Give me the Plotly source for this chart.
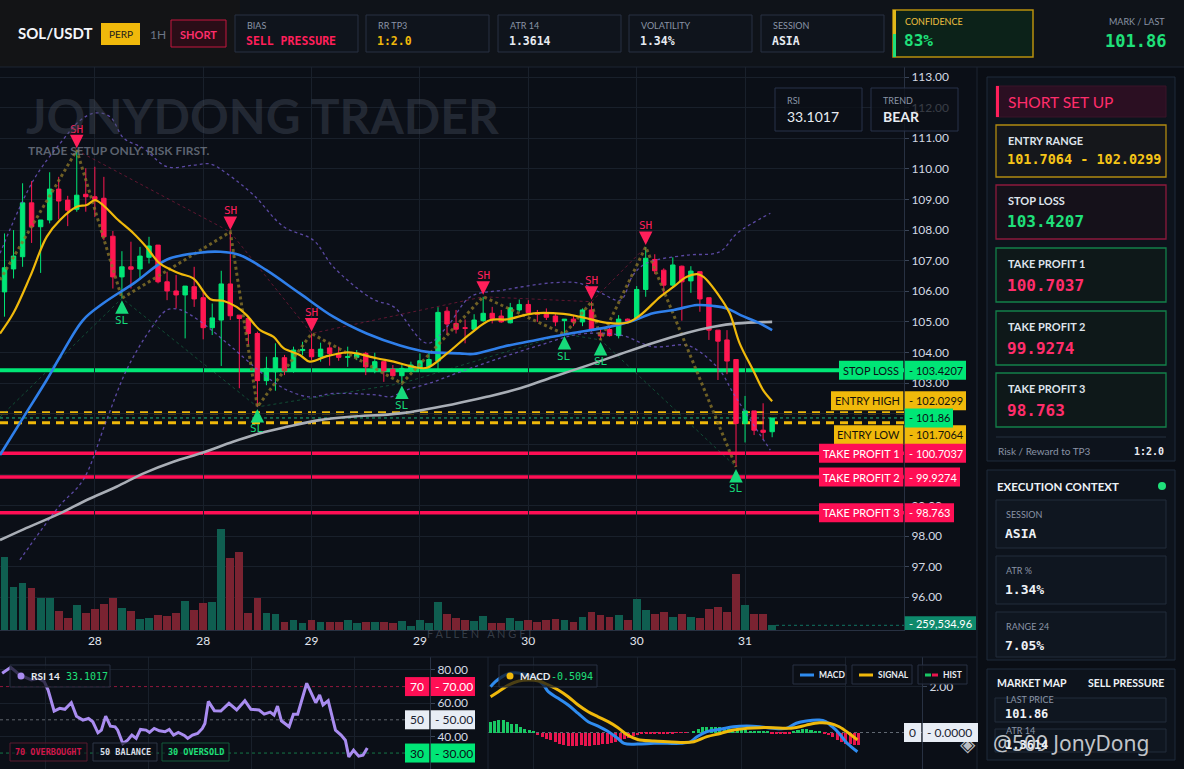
import plotly.graph_objects as go

W, H = 1184, 769


def px(x):
    return x / W


def py(y):
    return 1 - y / H


SANS = "Lato, 'Noto Sans', 'DejaVu Sans', sans-serif"
MONO = "'DejaVu Sans Mono', 'Liberation Mono', monospace"

# ---------------------------------------------------------------- data
candle_idx = list(range(86))
open_ = [105.98, 106.73, 107.13, 108.89, 108.11, 108.33, 109.34, 108.98, 108.68, 109.17,
         109.09, 109.04, 107.80, 106.47, 106.80, 106.73, 107.11, 107.51, 106.31, 106.01,
         105.88, 106.15, 105.79, 104.81, 105.06, 106.24, 105.22, 105.11, 104.62, 103.08,
         103.37, 103.83, 103.40, 104.06, 104.10, 103.86, 104.15, 103.97, 103.84, 103.84,
         103.97, 103.48, 103.70, 103.45, 103.24, 103.42, 103.48, 103.53, 103.72, 105.35,
         104.95, 104.81, 104.76, 105.04, 105.28, 105.19, 104.97, 105.39, 105.57, 105.30,
         105.28, 105.19, 105.04, 105.09, 105.00, 105.39, 104.63, 104.75, 104.55, 105.09,
         105.08, 106.06, 107.04, 106.69, 106.20, 106.82, 106.34, 106.64, 105.79, 104.73,
         104.41, 103.77, 101.68, 102.09, 101.46, 101.41]
high = [107.89, 108.00, 109.53, 109.60, 108.33, 109.89, 109.74, 109.12, 110.61, 110.02,
        110.07, 109.74, 107.97, 107.31, 107.62, 107.45, 107.78, 107.51, 106.64, 106.53,
        106.17, 106.80, 106.04, 105.60, 106.67, 107.94, 105.22, 105.12, 104.68, 103.86,
        104.30, 103.92, 104.19, 104.35, 104.62, 104.32, 104.30, 104.19, 104.19, 104.08,
        104.02, 103.99, 103.70, 103.59, 103.59, 103.70, 103.97, 104.02, 105.48, 105.49,
        105.39, 105.08, 105.25, 105.82, 105.49, 105.39, 105.62, 105.73, 105.71, 105.39,
        105.44, 105.28, 105.09, 105.22, 105.44, 105.66, 104.80, 104.84, 105.22, 105.11,
        106.17, 107.45, 107.21, 106.75, 107.11, 106.84, 106.82, 106.64, 105.79, 104.73,
        104.73, 103.77, 102.58, 102.09, 102.34, 101.86]
low = [105.17, 106.42, 106.80, 107.58, 106.60, 108.22, 108.35, 108.13, 108.60, 108.60,
       108.43, 107.67, 106.09, 105.77, 106.09, 106.42, 106.91, 106.26, 105.71, 105.44,
       104.46, 105.49, 104.43, 104.57, 103.56, 105.06, 102.83, 104.24, 102.22, 102.93,
       102.75, 103.26, 103.34, 103.92, 103.75, 103.70, 103.57, 103.73, 103.53, 103.75,
       103.26, 103.32, 103.04, 103.21, 102.99, 103.34, 103.37, 103.45, 103.42, 104.57,
       104.62, 104.30, 104.68, 105.00, 104.95, 104.97, 104.95, 105.33, 105.22, 105.00,
       105.06, 104.86, 104.60, 104.86, 104.86, 104.68, 104.41, 104.52, 104.46, 105.00,
       105.04, 105.82, 106.56, 105.88, 106.13, 105.04, 105.95, 105.33, 104.41, 103.10,
       103.29, 100.26, 101.06, 101.30, 101.16, 101.23]
close = [106.77, 107.15, 108.89, 108.11, 108.33, 109.34, 108.95, 108.65, 109.14, 109.09,
         109.00, 107.78, 106.47, 106.80, 106.72, 107.15, 107.48, 106.31, 106.01, 105.88,
         106.17, 105.75, 104.81, 105.13, 106.24, 105.20, 105.11, 104.62, 103.08, 103.48,
         103.83, 103.40, 104.08, 104.10, 103.86, 104.11, 103.97, 103.84, 103.86, 103.97,
         103.53, 103.70, 103.40, 103.24, 103.48, 103.59, 103.73, 103.77, 105.31, 104.93,
         104.76, 104.79, 105.06, 105.28, 105.11, 105.00, 105.46, 105.57, 105.30, 105.25,
         105.15, 105.00, 105.09, 105.00, 105.39, 104.76, 104.54, 104.55, 105.09, 105.03,
         106.06, 107.08, 106.67, 106.20, 106.86, 106.31, 106.66, 105.75, 104.73, 104.37,
         103.72, 101.68, 102.09, 101.46, 101.39, 101.86]
volume = [4014000, 2358000, 2579000, 2303000, 1750000, 1750000, 1049000, 646000, 1364000, 922000,
          1143000, 1436000, 1750000, 1198000, 1049000, 607000, 646000, 828000, 773000, 922000,
          1601000, 1104000, 1474000, 1546000, 5577000, 3959000, 4291000, 922000, 1750000, 922000,
          867000, 425000, 552000, 370000, 552000, 425000, 425000, 425000, 552000, 370000,
          425000, 425000, 425000, 370000, 497000, 221000, 552000, 370000, 1546000, 867000,
          679000, 552000, 497000, 773000, 403000, 370000, 663000, 497000, 552000, 442000,
          552000, 607000, 552000, 442000, 718000, 994000, 828000, 718000, 828000, 552000,
          1712000, 1104000, 884000, 994000, 718000, 884000, 718000, 663000, 1143000, 1254000,
          977000, 3092000, 1364000, 867000, 867000, 259534.96]

ema_fast_x = [-0.5, 0.97, 2.82, 4.67, 6.15, 8.0, 9.1, 10.0, 10.9, 12.4, 14.3, 15.7, 17.2, 19.4,
              20.9, 22.8, 24.2, 25.7, 26.8, 28.3, 29.8, 30.9, 32.7, 33.8, 35.7, 37.9, 39.0, 41.2,
              43.1, 45.3, 46.8, 49.0, 51.6, 53.8, 55.6, 58.6, 61.9, 63.7, 66.7, 68.9, 70.4, 72.6,
              74.1, 75.5, 76.7, 77.4, 79.2, 80.3, 81.4, 82.9, 84.0, 85.0]
ema_fast_v = [104.62, 105.28, 106.47, 107.78, 108.33, 108.76, 108.82, 108.98, 108.82, 108.38,
              107.89, 107.45, 106.91, 106.58, 106.42, 105.74, 105.69, 105.49, 105.22, 104.73,
              104.51, 104.14, 103.92, 103.70, 103.88, 104.00, 103.97, 103.81, 103.70, 103.53,
              103.50, 103.97, 104.62, 105.06, 105.08, 105.28, 105.26, 105.17, 104.97, 104.97,
              105.22, 105.82, 106.15, 106.47, 106.56, 106.47, 105.82, 105.28, 104.30, 103.42,
              102.77, 102.41]
ema_mid_x = [-0.5, 1.9, 4.67, 6.15, 8.7, 10.9, 14.3, 18.0, 21.6, 23.9, 26.1, 29.0, 32.7, 36.4,
             40.1, 43.8, 46.8, 50.4, 51.9, 55.2, 58.9, 62.6, 66.7, 69.6, 71.8, 74.1, 76.7, 78.5,
             80.0, 81.5, 83.3, 85.0]
ema_mid_v = [100.65, 101.79, 103.10, 103.86, 105.06, 105.60, 106.26, 107.04, 107.26, 107.29,
             107.18, 106.69, 105.93, 105.17, 104.62, 104.23, 104.02, 103.97, 103.95, 104.19,
             104.41, 104.62, 104.82, 105.04, 105.28, 105.39, 105.55, 105.52, 105.44, 105.22,
             105.00, 104.73]
ema_slow_x = [-0.5, 2.1, 6.15, 9.1, 12.4, 15.4, 18.7, 22.0, 25.3, 28.3, 31.3, 34.9, 38.3, 43.8,
              49.7, 53.4, 57.1, 60.8, 64.5, 68.2, 71.9, 75.5, 78.5, 81.1, 85.0]
ema_slow_v = [97.87, 98.22, 98.74, 99.18, 99.61, 100.05, 100.43, 100.73, 101.08, 101.36,
              101.57, 101.79, 101.90, 102.01, 102.31, 102.55, 102.83, 103.21, 103.57, 103.95,
              104.32, 104.64, 104.84, 104.95, 105.00]
band_up_x = [-0.5, 3.2, 6.15, 8.4, 10.0, 11.7, 13.2, 15.4, 18.0, 20.9, 22.8, 24.6, 27.6, 30.9,
             34.2, 36.4, 40.8, 43.1, 46.8, 49.0, 51.6, 55.2, 60.8, 63.7, 65.9, 68.2, 69.6, 71.1,
             75.5, 79.2, 81.1, 84.8]
band_up_v = [107.24, 109.63, 110.83, 111.59, 111.83, 111.70, 111.00, 110.67, 110.07, 110.12,
             110.16, 109.85, 109.14, 108.11, 107.67, 106.80, 105.74, 105.49, 104.30, 104.84,
             105.82, 106.04, 106.28, 106.26, 105.97, 105.71, 106.53, 106.92, 107.18, 107.29,
             107.89, 108.55]
band_lo_x = [1.7, 3.9, 6.15, 8.7, 11.3, 13.5, 16.1, 18.0, 19.4, 21.6, 25.3, 29.0, 31.3, 33.8,
             36.4, 41.2, 42.7, 44.5, 47.5, 50.4, 54.9, 59.3, 63.7, 68.2, 71.8, 75.5, 77.0, 79.2,
             80.7, 82.6, 84.8]
band_lo_v = [97.22, 98.13, 99.01, 99.83, 101.79, 103.42, 104.73, 105.39, 105.40, 105.03,
             104.14, 103.21, 102.77, 102.55, 102.66, 102.61, 102.55, 102.77, 103.04, 103.36,
             103.82, 104.24, 104.60, 104.57, 104.19, 104.24, 104.02, 103.42, 102.67, 101.79,
             100.81]

zigzag_x = [-0.5, 8, 13, 25, 28, 34, 44, 53, 62, 65, 66, 71, 81]
zigzag_v = [106.37, 110.61, 105.77, 107.94, 102.22, 104.62, 102.99, 105.82, 104.60, 105.66,
            104.41, 107.45, 100.26]
swing_high_idx = [8, 25, 34, 53, 65, 71]
swing_low_idx = [13, 28, 44, 62, 66, 81]
low_trend_x = [-0.5, 13, 28, 44, 62, 66, 81]
low_trend_v = [101.89, 105.77, 102.22, 102.99, 104.60, 104.41, 100.26]

rsi_x = [0, 2.0, 4.1, 6.8, 8.4, 9.8, 10.7, 12.1, 13.4, 14.6, 16.1, 17.3, 18.8, 20.1, 21.1, 22.3,
         23.1, 24.1, 25.2, 26.3, 26.9, 28.1, 29.2, 30.2, 31.2, 32.2, 33.5, 34.3, 35.4, 36.6,
         37.9, 38.9, 39.9, 41.0, 42.4, 43.2, 44.3, 45.5, 46.6, 47.2, 48.0, 49.4, 50.9, 52.8,
         54.6, 56.5, 57.9, 59.8, 61.0, 62.4, 63.3, 64.1, 65.0, 66.8, 67.8, 68.8, 70.9, 72.2,
         73.0, 73.9, 74.7, 75.9, 77.6, 78.9, 79.9, 80.7, 81.8, 83.0, 84.0, 85.0]
rsi_v = [78.0, 81.6, 77.0, 74.0, 75.0, 73.0, 67.9, 55.3, 56.9, 56.3, 60.3, 52.2, 49.8, 50.8,
         48.8, 42.2, 43.8, 52.2, 46.2, 45.8, 43.8, 35.7, 37.7, 40.8, 38.8, 44.2, 43.8, 42.4,
         44.8, 43.4, 42.8, 44.2, 40.8, 42.4, 40.6, 38.8, 40.8, 41.8, 44.8, 47.8, 61.1, 55.5,
         55.3, 59.9, 55.9, 61.5, 56.3, 55.9, 53.4, 54.6, 52.8, 58.3, 49.4, 45.8, 53.4, 53.4,
         72.0, 64.9, 60.3, 64.9, 58.9, 61.5, 43.8, 40.8, 37.7, 27.7, 31.7, 28.1, 28.7, 33.1]

macd_x = [0.1, 1.2, 2.8, 4.3, 5.8, 8.1, 10.4, 12.3, 13.4, 15.7, 18.0, 20.3, 22.6, 24.9, 27.2,
          29.4, 30.9, 34.0, 37.8, 40.9, 43.9, 46.2, 47.7, 50.0, 53.1, 56.1, 59.2, 62.2, 65.2,
          68.3, 70.6, 72.9, 75.9, 77.4, 78.9, 80.5, 82.0, 83.2, 84.7]
macd_v = [1.98, 2.20, 2.42, 2.56, 2.59, 2.53, 2.35, 2.06, 1.77, 1.48, 1.19, 0.83, 0.47, 0.28,
          0.04, -0.25, -0.47, -0.50, -0.47, -0.47, -0.47, -0.40, -0.18, 0.04, 0.14, 0.25, 0.28,
          0.25, 0.18, 0.18, 0.40, 0.50, 0.54, 0.47, 0.25, -0.04, -0.40, -0.61, -0.83]
signal_x = [0.1, 1.9, 4.3, 6.6, 8.9, 11.2, 13.4, 15.7, 18.0, 20.3, 22.6, 24.9, 27.2, 29.4, 31.7,
            34.0, 37.8, 40.9, 43.9, 47.0, 50.0, 53.1, 56.1, 59.2, 62.2, 65.2, 68.3, 70.6, 72.9,
            75.9, 78.2, 80.5, 82.8, 84.7]
signal_v = [1.55, 1.77, 2.06, 2.23, 2.27, 2.23, 2.06, 1.84, 1.55, 1.19, 0.90, 0.68, 0.47, 0.22,
            -0.11, -0.30, -0.37, -0.40, -0.43, -0.40, -0.18, -0.04, 0.11, 0.18, 0.21, 0.21, 0.18,
            0.22, 0.32, 0.42, 0.40, 0.25, -0.04, -0.32]
hist_v = [0.46, 0.49, 0.56, 0.53, 0.46, 0.39, 0.35, 0.22, 0.17, 0.10, 0.03,
          -0.12, -0.19, -0.26, -0.33, -0.40, -0.48, -0.55, -0.59, -0.59, -0.59, -0.55, -0.59,
          -0.59, -0.55, -0.55, -0.51, -0.48, -0.45, -0.40, -0.33, -0.30, -0.22, -0.16, -0.12,
          -0.07, -0.04, -0.04, -0.04, -0.04, -0.04, -0.04, -0.04, -0.01, -0.01, -0.01, 0.0,
          0.03, 0.17, 0.22, 0.25, 0.22, 0.25, 0.22, 0.22, 0.17, 0.17, 0.14, 0.14, 0.10, 0.07,
          0.07, 0.06, 0.03, 0.03,
          -0.04, -0.04, -0.04, -0.04, -0.04,
          0.07, 0.13, 0.17, 0.17, 0.13, 0.07, 0.03,
          -0.04, -0.12, -0.19, -0.33, -0.40, -0.51, -0.51, -0.55, -0.55]

x_tick_idx = [10, 22, 34, 46, 58, 70, 82]
x_tick_text = ['28', '28', '29', '29', '30', '30', '31']
panel_tick_idx = [10, 34, 58, 82]
price_ticks = [96, 97, 98, 99, 100, 101, 102, 103, 104, 105, 106, 107, 108, 109, 110, 111, 112, 113]
price_tick_text = ['96.00', '97.00', '98.00', '99.00', '', '', '', '103.00', '104.00', '105.00',
                   '106.00', '107.00', '108.00', '109.00', '110.00', '111.00', '112.00', '113.00']

level_names = ['STOP LOSS', 'ENTRY HIGH', 'ENTRY LOW', 'TAKE PROFIT 1', 'TAKE PROFIT 2', 'TAKE PROFIT 3']
level_values = [103.4207, 102.0299, 101.7064, 100.7037, 99.9274, 98.763]
last_price = 101.86
rsi_levels = [70, 50, 30]

# ---------------------------------------------------------------- style
GREEN = '#00e676'
RED = '#ff1751'
LINE_RED = '#ff0f55'
GRID = '#19202b'
AXIS = '#283142'
TXT = '#e8ecf2'
MUTED = '#8a94a6'

fig = go.Figure()

vol_colors = ['#0f5e50' if c >= o else '#7a2331' for o, c in zip(open_, close)]
fig.add_trace(go.Bar(x=candle_idx, y=volume, marker=dict(color=vol_colors, line=dict(width=0)),
                     width=0.86, xaxis='x', yaxis='y2', hoverinfo='skip'))

fig.add_trace(go.Scatter(x=band_up_x, y=band_up_v, mode='lines', xaxis='x', yaxis='y',
                         line=dict(color='rgba(118,92,210,0.75)', width=1.3, dash='dot', shape='spline'),
                         hoverinfo='skip'))
fig.add_trace(go.Scatter(x=band_lo_x, y=band_lo_v, mode='lines', xaxis='x', yaxis='y',
                         line=dict(color='rgba(118,92,210,0.75)', width=1.3, dash='dot', shape='spline'),
                         hoverinfo='skip'))
fig.add_trace(go.Scatter(x=swing_high_idx, y=[high[i] for i in swing_high_idx], mode='lines',
                         xaxis='x', yaxis='y', line=dict(color='rgba(200,30,80,0.45)', width=1, dash='dot'),
                         hoverinfo='skip'))
fig.add_trace(go.Scatter(x=low_trend_x, y=low_trend_v, mode='lines',
                         xaxis='x', yaxis='y', line=dict(color='rgba(30,190,110,0.35)', width=1, dash='dot'),
                         hoverinfo='skip'))
fig.add_trace(go.Scatter(x=zigzag_x, y=zigzag_v, mode='lines', xaxis='x', yaxis='y',
                         line=dict(color='rgba(135,115,40,0.8)', width=3, dash='dot'), hoverinfo='skip'))

fig.add_trace(go.Candlestick(x=candle_idx, open=open_, high=high, low=low, close=close,
                             xaxis='x', yaxis='y', whiskerwidth=0,
                             increasing=dict(line=dict(color=GREEN, width=1), fillcolor=GREEN),
                             decreasing=dict(line=dict(color=RED, width=1), fillcolor=RED),
                             hoverinfo='skip'))

fig.add_trace(go.Scatter(x=ema_slow_x, y=ema_slow_v, mode='lines', xaxis='x', yaxis='y',
                         line=dict(color='#a9aeb6', width=2.6, shape='spline'), hoverinfo='skip'))
fig.add_trace(go.Scatter(x=ema_mid_x, y=ema_mid_v, mode='lines', xaxis='x', yaxis='y',
                         line=dict(color='#2f7fea', width=2.6, shape='spline'), hoverinfo='skip'))
fig.add_trace(go.Scatter(x=ema_fast_x, y=ema_fast_v, mode='lines', xaxis='x', yaxis='y',
                         line=dict(color='#f0b90b', width=2.2, shape='spline'), hoverinfo='skip'))

# RSI
fig.add_trace(go.Scatter(x=rsi_x, y=rsi_v, mode='lines', xaxis='x2', yaxis='y3',
                         line=dict(color='#a98cf0', width=3), hoverinfo='skip'))
# MACD
hist_colors = ['#19c864' if h >= 0 else '#e8154e' for h in hist_v]
fig.add_trace(go.Bar(x=candle_idx, y=hist_v, marker=dict(color=hist_colors, line=dict(width=0)),
                     width=0.7, xaxis='x3', yaxis='y4', hoverinfo='skip'))
fig.add_trace(go.Scatter(x=macd_x, y=macd_v, mode='lines', xaxis='x3', yaxis='y4',
                         line=dict(color='#2f8cf0', width=3, shape='spline'), hoverinfo='skip'))
fig.add_trace(go.Scatter(x=signal_x, y=signal_v, mode='lines', xaxis='x3', yaxis='y4',
                         line=dict(color='#f0b90b', width=3, shape='spline'), hoverinfo='skip'))

# ---------------------------------------------------------------- decorations
shapes, anns = [], []


def rect(x0, y0, x1, y1, fill='rgba(0,0,0,0)', line=None, lw=1, layer='above'):
    shapes.append(dict(type='rect', xref='paper', yref='paper', x0=px(x0), x1=px(x1),
                       y0=py(y1), y1=py(y0), fillcolor=fill,
                       line=dict(color=line if line else 'rgba(0,0,0,0)', width=lw if line else 0),
                       layer=layer))


def seg(x0, y0, x1, y1, color, w=1, dash='solid', layer='above'):
    shapes.append(dict(type='line', xref='paper', yref='paper', x0=px(x0), x1=px(x1),
                       y0=py(y0), y1=py(y1), line=dict(color=color, width=w, dash=dash), layer=layer))


def dot(x, y, r, color):
    shapes.append(dict(type='circle', xref='paper', yref='paper', x0=px(x - r), x1=px(x + r),
                       y0=py(y + r), y1=py(y - r), fillcolor=color, line=dict(width=0), layer='above'))


def txt(x, y, s, size=11, color=TXT, anchor='left', family=SANS):
    anns.append(dict(xref='paper', yref='paper', x=px(x), y=py(y), text=s, showarrow=False,
                     xanchor=anchor, yanchor='middle', font=dict(size=size, color=color, family=family)))


def level_box(yref, level, shift, x0, x1, fill, hh=9.5):
    shapes.append(dict(type='rect', xref='paper', yref=yref, ysizemode='pixel', yanchor=level,
                       x0=px(x0), x1=px(x1), y0=shift - hh, y1=shift + hh, fillcolor=fill,
                       line=dict(width=0), layer='above'))


def level_txt(yref, level, shift, x, s, color, anchor='left', size=11, family=SANS):
    anns.append(dict(xref='paper', yref=yref, x=px(x), y=level, yshift=shift, text=s,
                     showarrow=False, xanchor=anchor, yanchor='middle',
                     font=dict(size=size, color=color, family=family)))


# backgrounds
rect(0, 0, 1184, 67, fill='#0f1319', layer='below')
rect(0, 0, 240, 67, fill='rgba(24,22,20,0.55)', layer='below')
rect(0, 67, 977, 769, fill='#0b0f17', layer='below')
rect(977, 67, 1184, 769, fill='#0a0e15', layer='below')
seg(0, 67, 1184, 67, '#1d2533')
seg(977, 67, 977, 769, '#1d2533')
seg(0, 657, 977, 657, '#1d2533')
seg(488, 657, 488, 769, '#1d2533')

# level lines on price chart
lvl_style = [(GREEN, 4, 'solid'), ('#f0b90b', 3, '8px,6px'), ('#f0b90b', 3, '8px,6px'),
             (LINE_RED, 3.5, 'solid'), (LINE_RED, 3.5, 'solid'), (LINE_RED, 3.5, 'solid')]
for v, (c, w, d) in zip(level_values, lvl_style):
    shapes.append(dict(type='line', xref='x domain', yref='y', x0=0, x1=1, y0=v, y1=v,
                       line=dict(color=c, width=w, dash=d), layer='below'))
shapes.append(dict(type='line', xref='x domain', yref='y', x0=0, x1=1, y0=last_price, y1=last_price,
                   line=dict(color='rgba(31,224,150,0.8)', width=1, dash='dot'), layer='below'))
shapes.append(dict(type='line', xref='paper', yref='y2', x0=px(776), x1=px(904),
                   y0=volume[-1], y1=volume[-1],
                   line=dict(color='rgba(20,160,130,0.7)', width=1, dash='dot'), layer='above'))

# level tags
tag_geom = [(0, 839, 966, GREEN, '#0b0f17'), (12, 831, 966, '#f0b90b', '#15120a'),
            (-12, 834, 966, '#f0b90b', '#15120a'), (0, 819, 966, LINE_RED, '#ffffff'),
            (0, 819, 960, LINE_RED, '#ffffff'), (0, 819, 954, LINE_RED, '#ffffff')]
for name, v, (sh, xl, xr, fill, tc) in zip(level_names, level_values, tag_geom):
    level_box('y', v, sh, xl, 903.3, fill)
    level_box('y', v, sh, 904.7, xr, fill)
    level_txt('y', v, sh, (xl + 903.3) / 2, name, tc, anchor='center')
    level_txt('y', v, sh, 907, '- ' + ('%.4f' % v).rstrip('0'), tc)
level_box('y', last_price, 0, 904.7, 953, GREEN)
level_txt('y', last_price, 0, 907, '- %.2f' % last_price, '#0b0f17')
level_box('y2', volume[-1], 2, 904.7, 976, '#0e8a6c', hh=7)
level_txt('y2', volume[-1], 2, 907, '- {:,.2f}'.format(volume[-1]), '#ffffff')

# swing markers
for i in swing_high_idx:
    anns.append(dict(xref='x', yref='y', x=i, y=high[i], text='SH', showarrow=True, arrowhead=2,
                     arrowsize=0.9, arrowwidth=3, arrowcolor='#ff1f5a', ax=0, ay=-21, standoff=2,
                     font=dict(size=11, color='#ff1f5a', family=MONO)))
for i in swing_low_idx:
    anns.append(dict(xref='x', yref='y', x=i, y=low[i], text='SL', showarrow=True, arrowhead=2,
                     arrowsize=0.9, arrowwidth=3, arrowcolor='#16d97a', ax=0, ay=22, standoff=2,
                     font=dict(size=11, color='#16d97a', family=MONO)))

# chart watermark texts
txt(24, 115, '<b>JONYDONG TRADER</b>', 48, 'rgba(70,78,92,0.42)')
txt(26, 150, '<b>TRADE SETUP ONLY. RISK FIRST.</b>', 12, 'rgba(120,128,142,0.75)')
txt(425, 633, 'F A L L E N   A N G E L', 11, 'rgba(90,98,112,0.55)')

# RSI / TREND boxes in chart
rect(775, 88, 862, 131, fill='rgba(11,15,23,0.78)', line='#28324a')
rect(871, 88, 958, 131, fill='rgba(11,15,23,0.78)', line='#28324a')
txt(785, 101, 'RSI', 9, MUTED)
txt(785, 116, '33.1017', 14, TXT)
txt(881, 101, 'TREND', 9, MUTED)
txt(881, 116, '<b>BEAR</b>', 14, TXT)

# ---- top bar
txt(16, 33, '<b>SOL/USDT</b>', 15, '#f4f6fa')
rect(101, 23, 140, 45, fill='#f0b90b')
txt(120.5, 34, 'PERP', 10, '#1b1b1b', anchor='center')
txt(148, 34, '1H', 12, '#6c7686')
rect(171, 20, 226, 47, fill='#2a0d17', line='#c4163f')
txt(198.5, 34, '<b>SHORT</b>', 11, '#ff2d6b', anchor='center')
for x0, lab, val, col in [(235, 'BIAS', 'SELL PRESSURE', '#ff1f5a'), (366, 'RR TP3', '1:2.0', '#f0b90b'),
                          (498, 'ATR 14', '1.3614', TXT), (629, 'VOLATILITY', '1.34%', TXT),
                          (761, 'SESSION', 'ASIA', TXT)]:
    rect(x0, 15, x0 + 123, 52, fill='#0f141c', line='#283142')
    txt(x0 + 10, 26, lab, 9, MUTED)
    txt(x0 + 9, 41, '<b>' + val + '</b>', 11.5, col, family=MONO)
rect(893, 10, 1033, 57, fill='#0c2219', line='#b8900c', lw=1.5)
rect(893, 10, 896, 34, fill='#e0b81a')
rect(893, 34, 896, 57, fill='#1fe07a')
txt(903, 22, 'CONFIDENCE', 9, '#f0c040')
txt(902, 41, '<b>83%</b>', 16, '#1fe07a', family=MONO)
txt(1167, 22, 'MARK / LAST', 9, MUTED, anchor='right')
txt(1168, 41, '<b>101.86</b>', 17, '#1fe07a', anchor='right', family=MONO)

# ---- right panel: short setup
rect(987, 77, 1175, 461, fill='#0d131c', line='#1f2a3a')
rect(996, 86, 1166, 117, fill='#2b0f22', line='#3a1428')
rect(996, 86, 999, 117, fill='#ff1f5a')
txt(1006, 101.5, 'SHORT SET UP', 15.5, '#ff2d6b')
rect(996, 125, 1166, 177, fill='#15171b', line='#b08a10', lw=1.3)
txt(1006, 140, '<b>ENTRY RANGE</b>', 11, '#dfe4ec')
txt(1005, 159, '<b>101.7064 - 102.0299</b>', 13.5, '#f5c518', family=MONO)
box_rows = [(185, 'STOP LOSS', '103.4207', '#8c1a3c', '#15111a', '#1fe07a'),
            (248, 'TAKE PROFIT 1', '100.7037', '#13804a', '#0e1819', '#ff2d6b'),
            (311, 'TAKE PROFIT 2', '99.9274', '#13804a', '#0e1819', '#ff2d6b'),
            (373, 'TAKE PROFIT 3', '98.763', '#13804a', '#0e1819', '#ff2d6b')]
for y0, lab, val, bc, fc, vc in box_rows:
    rect(996, y0, 1166, y0 + 54, fill=fc, line=bc, lw=1.3)
    txt(1006, y0 + 15, '<b>' + lab + '</b>', 11, '#dfe4ec')
    txt(1005, y0 + 37, '<b>' + val + '</b>', 16, vc, family=MONO)
seg(996, 437, 1166, 437, '#25303f')
txt(996, 451, 'Risk / Reward to TP3', 10, MUTED)
txt(1166, 451, '<b>1:2.0</b>', 10, TXT, anchor='right', family=MONO)

# ---- execution context
rect(987, 470, 1175, 660, fill='#0d131c', line='#1f2a3a')
txt(995, 486, '<b>EXECUTION CONTEXT</b>', 11.5, '#eef2f7')
dot(1162, 486, 4, '#1fe07a')
for y0, lab, val in [(500, 'SESSION', 'ASIA'), (556, 'ATR %', '1.34%'), (612, 'RANGE 24', '7.05%')]:
    rect(996, y0, 1166, min(y0 + 48, 657), fill='#0f1620', line='#222c3b')
    txt(1004, y0 + 14, lab, 9, MUTED)
    txt(1003, y0 + 33, '<b>' + val + '</b>', 13, '#eef2f7', family=MONO)

# ---- market map
rect(987, 669, 1175, 760, fill='#0d131c', line='#1f2a3a')
txt(995, 683, '<b>MARKET MAP</b>', 10.5, '#eef2f7')
txt(1166, 683, '<b>SELL PRESSURE</b>', 10.5, '#eef2f7', anchor='right')
rect(995, 698, 1166, 722, fill='#0f1620', line='#222c3b')
txt(1004, 699, 'LAST PRICE', 9, MUTED)
txt(1003, 714, '<b>101.86</b>', 12, '#eef2f7', family=MONO)
rect(995, 729, 1166, 752, fill='#0f1620', line='#222c3b')
txt(1004, 730, 'ATR 14', 9, MUTED)
txt(1003, 745, '<b>1.3614</b>', 12, '#eef2f7', family=MONO)

# ---- RSI panel
rect(10, 665, 110, 687, fill='rgba(11,15,23,0.72)', line='#283142')
dot(21, 676, 3.5, '#a98cf0')
txt(29, 676, '<b>RSI 14</b>', 10, TXT)
txt(64, 676, '33.1017', 10, '#1fe07a', family=MONO)
rsi_cols = [('rgba(255,31,90,0.55)', LINE_RED, '#ffffff'), ('rgba(200,206,216,0.45)', '#e8edf5', '#1b2230'),
            ('rgba(31,224,122,0.5)', GREEN, '#0b0f17')]
for lv, (lc, fc, tc) in zip(rsi_levels, rsi_cols):
    shapes.append(dict(type='line', xref='x2 domain', yref='y3', x0=0, x1=1, y0=lv, y1=lv,
                       line=dict(color=lc, width=1, dash='dot'), layer='below'))
    level_box('y3', lv, 0, 405, 429.3, fc)
    level_box('y3', lv, 0, 430.7, 475, fc)
    level_txt('y3', lv, 0, 417, str(lv), tc, anchor='center', size=12)
    level_txt('y3', lv, 0, 433, '- %.2f' % lv, tc, size=12)
for x0, x1, s, bc, tc in [(10, 87, '<b>70 OVERBOUGHT</b>', '#5a1a2e', '#d0164a'),
                          (93, 157, '<b>50 BALANCE</b>', '#2f3646', '#d8dde6'),
                          (162, 229, '<b>30 OVERSOLD</b>', '#125a3a', '#1fe07a')]:
    rect(x0, 743, x1, 761, fill='rgba(11,15,23,0.6)', line=bc)
    txt((x0 + x1) / 2, 752, s, 8.5, tc, anchor='center', family=MONO)

# ---- MACD panel
rect(499, 665, 597, 687, fill='rgba(11,15,23,0.72)', line='#283142')
dot(510, 676, 3.5, '#f0b90b')
txt(518, 676, '<b>MACD</b>', 10, TXT)
txt(549, 676, '-0.5094', 10, '#1fe07a', family=MONO)
rect(793, 665, 846, 684, fill='rgba(11,15,23,0.8)', line='#283142')
seg(800, 675, 814, 675, '#2f8cf0', 3)
txt(817, 675, '<b>MACD</b>', 8.5, TXT)
rect(852, 665, 912, 684, fill='rgba(11,15,23,0.8)', line='#283142')
seg(859, 675, 873, 675, '#f0b90b', 3)
txt(876, 675, '<b>SIGNAL</b>', 8.5, TXT)
rect(918, 665, 967, 684, fill='rgba(11,15,23,0.8)', line='#283142')
seg(925, 675, 931, 675, '#19c864', 3)
seg(932, 675, 938, 675, '#e8154e', 3)
txt(941, 675, '<b>HIST</b>', 8.5, TXT)
shapes.append(dict(type='line', xref='x3 domain', yref='y4', x0=0, x1=1, y0=0, y1=0,
                   line=dict(color='rgba(170,178,190,0.55)', width=1, dash='dot'), layer='below'))
level_box('y4', 0, 0, 904, 921.3, '#e8edf5')
level_box('y4', 0, 0, 922.7, 978, '#e8edf5')
level_txt('y4', 0, 0, 912.5, '0', '#1b2230', anchor='center', size=12)
level_txt('y4', 0, 0, 925, '- 0.0000', '#1b2230', size=12)

# platform watermark
txt(968, 744, '◈', 20, 'rgba(235,238,242,0.8)', anchor='center', family="'DejaVu Sans'")
txt(991, 743, '@509 JonyDong', 21, 'rgba(235,238,242,0.82)', family="'Noto Sans', 'DejaVu Sans'")

tickfont = dict(color='#d3d9e3', size=12, family=SANS)
fig.update_layout(
    width=W, height=H, autosize=False,
    margin=dict(l=0, r=0, t=0, b=0),
    paper_bgcolor='#0b0f17', plot_bgcolor='rgba(0,0,0,0)',
    showlegend=False, bargap=0,
    shapes=shapes, annotations=anns,
    hovermode=False,
    xaxis=dict(domain=[0, px(904)], range=[-0.5, 99.6], anchor='y', tickvals=x_tick_idx,
               ticktext=x_tick_text, showgrid=True, gridcolor=GRID, zeroline=False,
               showline=True, linecolor=AXIS, ticks='',
               tickfont=dict(color='#e2e6ee', size=12, family=SANS),
               rangeslider=dict(visible=False), fixedrange=True),
    yaxis=dict(domain=[py(630), py(67)], range=[94.93, 113.33], anchor='x', side='right',
               tickvals=price_ticks, ticktext=price_tick_text, showgrid=True, gridcolor=GRID,
               zeroline=False, showline=True, linecolor=AXIS, ticks='outside', ticklen=4,
               tickcolor='#3a4558', tickfont=tickfont, fixedrange=True),
    yaxis2=dict(overlaying='y', anchor='x', range=[0, 31.1e6], visible=False, fixedrange=True),
    xaxis2=dict(domain=[0, px(430)], range=[-0.5, 99.6], anchor='y3', tickvals=panel_tick_idx,
                showticklabels=False, showgrid=True, gridcolor=GRID, zeroline=False, ticks='',
                fixedrange=True),
    yaxis3=dict(domain=[0, py(657)], range=[20.4, 87.8], anchor='x2', side='right',
                tickvals=[40, 60, 80], tickformat='.2f', showgrid=True, gridcolor=GRID,
                zeroline=False, showline=True, linecolor=AXIS, ticks='outside', ticklen=4,
                tickcolor='#3a4558', tickfont=tickfont, fixedrange=True),
    xaxis3=dict(domain=[px(488), px(922)], range=[-0.5, 99.6], anchor='y4', tickvals=panel_tick_idx,
                showticklabels=False, showgrid=True, gridcolor=GRID, zeroline=False, ticks='',
                fixedrange=True),
    yaxis4=dict(domain=[0, py(657)], range=[-1.58, 3.27], anchor='x3', side='right',
                tickvals=[2], tickformat='.2f', showgrid=True, gridcolor=GRID,
                zeroline=False, showline=True, linecolor=AXIS, ticks='outside', ticklen=4,
                tickcolor='#3a4558', tickfont=tickfont, fixedrange=True),
)

fig.write_html("out.html", include_plotlyjs=True, full_html=True,
               config={'displayModeBar': False},
               post_script="document.body.style.margin='0';document.body.style.overflow='hidden';"
                           "document.body.style.background='#0b0f17';")
